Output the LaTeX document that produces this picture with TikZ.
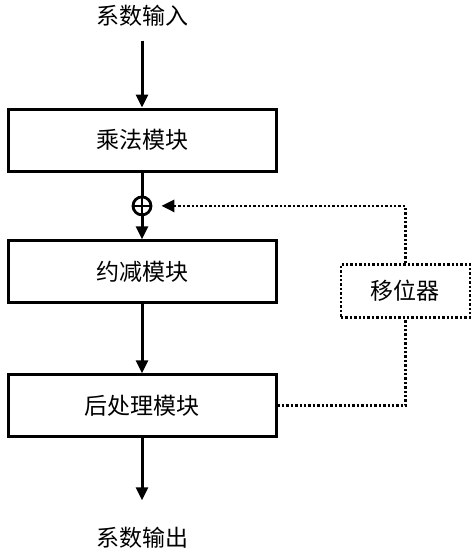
\documentclass[tikz,border=0pt]{standalone}
\usepackage{fontspec}
\newfontfamily\cjk{Noto Sans CJK SC}
\usetikzlibrary{arrows.meta, positioning}

\begin{document}
\begin{tikzpicture}[
  x=1pt, y=-1pt,
  box/.style={draw, line width=3pt, minimum width=268pt,
              minimum height=62pt, align=center, font=\cjk\fontsize{23}{27}\selectfont},
  shifter/.style={draw, dash pattern=on 2.4pt off 2pt, line width=2.8pt, minimum width=129pt,
                  minimum height=53pt, font=\cjk\fontsize{23}{27}\selectfont},
  iotext/.style={inner sep=0pt, font=\cjk\fontsize{23}{27}\selectfont},
  flow/.style={->, line width=3pt},
  fb/.style={dash pattern=on 2.4pt off 2pt, line width=2.8pt},
  >={Triangle[length=13pt,width=12pt]}, node distance=64pt
]
  \useasboundingbox (0,0) rectangle (474,550);

  % main column
  \node[box] (mul) at (142,140) {乘法模块};
  \node[draw, circle, line width=2.8pt, minimum size=18pt, inner sep=0pt,
        below=23pt of mul,
        path picture={\draw[line width=2.6pt]
          (path picture bounding box.north) -- (path picture bounding box.south)
          (path picture bounding box.west) -- (path picture bounding box.east);}] (add) {};
  \node[box, below=23pt of add] (red)  {约减模块};
  \node[box, below=69pt of red] (post) {后处理模块};
  \node[shifter, right=62pt of red, yshift=-19pt] (shift) {移位器};

  % input / output
  \coordinate[above=67pt of mul] (inbeg);
  \node[iotext, above=14pt of inbeg] (in) {系数输入};
  \coordinate[below=62pt of post] (outend);
  \node[iotext, below=27pt of outend] (out) {系数输出};

  \draw[flow] (inbeg) -- (mul);
  \draw[line width=3pt] (mul) -- (add);
  \draw[flow] (add) -- (red);
  \draw[flow] (red) -- (post);
  \draw[flow] (post) -- (outend);

  % feedback through the shifter
  \draw[fb] (post.east) -| (shift.south);
  \draw[fb, ->, shorten >=9pt] (shift.north) |- (add.east);
\end{tikzpicture}
\end{document}
